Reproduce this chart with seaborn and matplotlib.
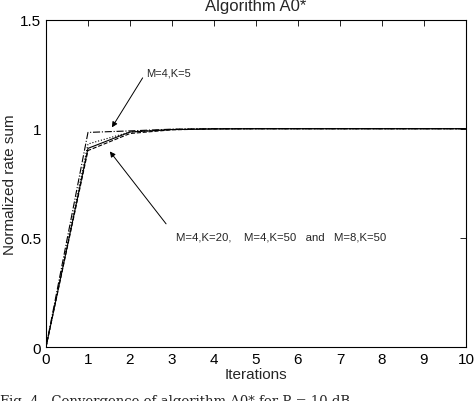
import matplotlib
matplotlib.use("Agg")
import matplotlib.pyplot as plt
import seaborn as sns
import pandas as pd

sns.set_theme(style="white")
plt.rcParams["font.family"] = ["Liberation Sans", "DejaVu Sans"]

# convergence data
iterations = [0, 1, 2, 3, 4, 5, 6, 7, 8, 9, 10]
m4_k5 = [0, 0.983, 0.99, 0.998, 1, 1, 1, 1, 1, 1, 1]
m4_k20 = [0, 0.93, 0.985, 0.997, 1, 1, 1, 1, 1, 1, 1]
m4_k50 = [0, 0.91, 0.985, 0.996, 0.999, 1, 1, 1, 1, 1, 1]
m8_k50 = [0, 0.90, 0.978, 0.995, 0.999, 1, 1, 1, 1, 1, 1]

series = {
    "M=4,K=5": (m4_k5, "-."),
    "M=4,K=20": (m4_k20, ":"),
    "M=4,K=50": (m4_k50, "-"),
    "M=8,K=50": (m8_k50, "--"),
}

fig = plt.figure(figsize=(4.74, 4.02), dpi=100)
ax = fig.add_axes([0.097, 0.134, 0.886, 0.815])

for name, (vals, ls) in series.items():
    df = pd.DataFrame({"Iterations": iterations, "Rate": vals})
    sns.lineplot(data=df, x="Iterations", y="Rate", ax=ax, color="black",
                 linestyle=ls, linewidth=0.8)

ax.set_xlim(0, 10)
ax.set_ylim(0, 1.5)
ax.set_xticks(range(0, 11))
ax.set_yticks([0, 0.5, 1, 1.5])
ax.set_yticklabels(["0", "0.5", "1", "1.5"])
ax.tick_params(direction="in", top=True, right=True, length=4, width=0.6,
               labelsize=11, color="black", labelcolor="black")
for s in ax.spines.values():
    s.set_color("black")
    s.set_linewidth(0.8)

ax.set_xlabel("Iterations", fontsize=11, labelpad=1)
ax.set_ylabel("Normalized rate sum", fontsize=11, labelpad=2)
ax.set_title("Algorithm A0*", fontsize=12, pad=7)

ax.annotate("M=4,K=5", xy=(1.57, 1.006), xytext=(2.38, 1.257),
            fontsize=8, va="center",
            arrowprops=dict(arrowstyle="-|>", color="black", lw=0.7,
                            mutation_scale=8, shrinkA=0, shrinkB=0,
                            relpos=(0, 0.5)))
ax.annotate("M=4,K=20,    M=4,K=50   and   M=8,K=50", xy=(1.52, 0.896),
            xytext=(3.1, 0.505), fontsize=8.2, va="center",
            arrowprops=dict(arrowstyle="-|>", color="black", lw=0.7,
                            mutation_scale=8, shrinkA=8, shrinkB=0,
                            relpos=(0, 0.5)))

fig.text(0.0, -0.014, "Fig. 4.  Convergence of algorithm A0* for P = 10 dB",
         family="DejaVu Serif", fontsize=9.5, va="bottom", ha="left")

fig.savefig("out.png", dpi=100)
